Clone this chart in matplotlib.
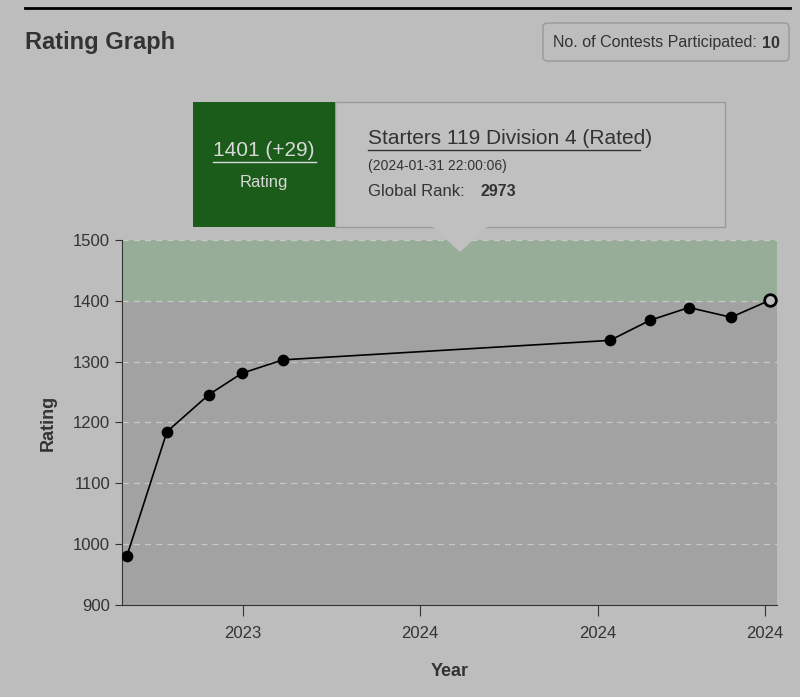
import matplotlib
matplotlib.use("Agg")
import matplotlib.pyplot as plt
from matplotlib.patches import Rectangle, FancyBboxPatch, Polygon

plt.rcParams["font.family"] = "Liberation Sans"

# data
xpos = [127, 167, 209, 242, 283, 610, 650, 689, 731, 770]
ratings = [981, 1185, 1246, 1281, 1303, 1335, 1368, 1389, 1373, 1401]
tick_pos = [243, 420, 598, 765]
tick_labels = ["2023", "2024", "2024", "2024"]
yticks = [900, 1000, 1100, 1200, 1300, 1400, 1500]

W, H = 800, 697
fig = plt.figure(figsize=(W/100, H/100), dpi=100)
fig.patch.set_facecolor("#bdbdbd")
ax = fig.add_axes([122/W, 1-605/H, (777-122)/W, (605-240)/H])
ax.set_facecolor("#a2a2a2")
ax.set_xlim(122, 777)
ax.set_ylim(900, 1500)
ax.axhspan(1400, 1500, color="#98ad98", zorder=0)
for y in yticks[1:]:
    ax.axhline(y, color="#c8c8c8", ls=(0, (5, 4)), lw=0.9, zorder=1)
ax.plot(xpos, ratings, color="black", lw=1.2, zorder=3)
ax.scatter(xpos[:-1], ratings[:-1], s=55, color="black", zorder=4)
ax.scatter(xpos[-1:], ratings[-1:], s=70, facecolor="#bdbdbd", edgecolor="black", linewidths=2, zorder=4)
ax.set_xticks(tick_pos)
ax.set_xticklabels(tick_labels)
ax.set_yticks(yticks)
ax.tick_params(colors="#333333", labelsize=12, length=5)
ax.tick_params(axis="x", length=8, pad=7)
for s in ["top", "right"]:
    ax.spines[s].set_visible(False)
ax.spines["left"].set_color("#333333")
ax.spines["bottom"].set_color("#333333")
ax.set_xlabel("Year", fontsize=13, fontweight="bold", color="#333333", labelpad=16)
ax.set_ylabel("Rating", fontsize=13, fontweight="bold", color="#333333", labelpad=12)

# header
fig.add_artist(plt.Line2D([25/W, 790/W], [1-8/H, 1-8/H], color="black", lw=2))
fig.text(25/W, 1-42/H, "Rating Graph", fontsize=17, fontweight="bold", color="#333333", va="center")
fig.add_artist(FancyBboxPatch((543/W, 1-61/H), 246/W, 38/H, boxstyle="round,pad=0,rounding_size=0.006",
                              transform=fig.transFigure, facecolor="#bdbdbd", edgecolor="#999999", lw=1))
fig.text(553/W, 1-43/H, "No. of Contests Participated: ", fontsize=11.5, color="#333333", va="center")
fig.text(762/W, 1-43/H, "10", fontsize=11.5, color="#333333", va="center", fontweight="bold")

# tooltip
fig.add_artist(Rectangle((335/W, 1-227/H), 390/W, 125/H, transform=fig.transFigure,
                         facecolor="#c0c0c0", edgecolor="#9a9a9a", lw=1, zorder=5))
fig.add_artist(Polygon([(432/W, 1-226/H), (488/W, 1-226/H), (460/W, 1-252/H)], closed=True,
                       transform=fig.transFigure, facecolor="#c0c0c0", edgecolor="none", zorder=6))
fig.add_artist(Rectangle((193/W, 1-227/H), 142/W, 125/H, transform=fig.transFigure,
                         facecolor="#1b5c1b", edgecolor="none", zorder=7))
fig.text(264/W, 1-151/H, "1401 (+29)", fontsize=15, color="#d8d8d8", ha="center", va="center", zorder=8)
fig.add_artist(plt.Line2D([213/W, 316/W], [1-162/H, 1-162/H], color="#d8d8d8", lw=1, zorder=8))
fig.text(264/W, 1-182/H, "Rating", fontsize=12, color="#d8d8d8", ha="center", va="center", zorder=8)
fig.text(368/W, 1-139/H, "Starters 119 Division 4 (Rated)", fontsize=15, color="#333333", va="center", zorder=8)
fig.add_artist(plt.Line2D([368/W, 640/W], [1-150/H, 1-150/H], color="#333333", lw=1, zorder=8))
fig.text(368/W, 1-166/H, "(2024-01-31 22:00:06)", fontsize=10, color="#333333", va="center", zorder=8)
fig.text(368/W, 1-192/H, "Global Rank:", fontsize=12, color="#333333", va="center", zorder=8)
fig.text(481/W, 1-192/H, "2973", fontsize=11.5, color="#333333", va="center", fontweight="bold", zorder=8)

fig.savefig("out.png", dpi=100, facecolor=fig.get_facecolor())
